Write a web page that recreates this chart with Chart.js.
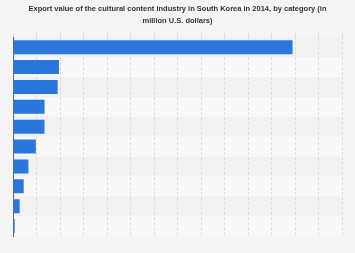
<!DOCTYPE html>
<html>
<head>
<meta charset="utf-8">
<script src="https://cdn.jsdelivr.net/npm/chart.js@4"></script>
<style>
    html, body { margin: 0; padding: 0; background: #f4f4f4; }
    #wrap { position: relative; width: 355px; height: 253px; }
</style>
</head>
<body>
<div id="wrap"><canvas id="chart"></canvas></div>
<script>
    // Données (millions de dollars US)
    const categories = ['Games', 'Character', 'Knowledge information', 'Music', 'Broadcasting',
        'Publishing', 'Content solutions', 'Cartoons', 'Film', 'Animation'];
    const exportValues = [2974, 489, 475, 336, 335, 243, 164, 114, 71, 18];
    const axisMax = 3500;
    const axisStep = 250;

    const titleLines = [
        'Export value of the cultural content industry in South Korea in 2014, by category (in',
        'million U.S. dollars)'
    ];

    // Fond + bandes alternées, dessinés avant la grille
    const rowBands = {
        id: 'rowBands',
        beforeDraw(chart) {
            const { ctx, width, height, chartArea, scales } = chart;
            const y = scales.y;
            const half = (y.getPixelForValue(1) - y.getPixelForValue(0)) / 2;
            ctx.save();
            ctx.fillStyle = '#f4f4f4';
            ctx.fillRect(0, 0, width, height);
            categories.forEach((c, i) => {
                ctx.fillStyle = i % 2 === 0 ? '#f1f1f1' : '#f8f8f8';
                const py = y.getPixelForValue(i);
                ctx.fillRect(chartArea.left, py - half, chartArea.right - chartArea.left, half * 2);
            });
            ctx.restore();
        }
    };

    new Chart(document.getElementById('chart'), {
        type: 'bar',
        data: {
            labels: categories,
            datasets: [{
                data: exportValues,
                backgroundColor: '#2a76dd',
                barPercentage: 0.7,
                categoryPercentage: 1
            }]
        },
        plugins: [rowBands],
        options: {
            indexAxis: 'y',
            responsive: true,
            maintainAspectRatio: false,
            animation: false,
            layout: { padding: { left: 13, right: 13, top: 0, bottom: 17 } },
            plugins: {
                legend: { display: false },
                tooltip: { enabled: false },
                title: {
                    display: true,
                    text: titleLines,
                    color: '#333',
                    font: { family: 'Liberation Sans', size: 7.5, weight: 'bold', lineHeight: 1.55 },
                    padding: { top: 3, bottom: 7 }
                }
            },
            scales: {
                x: {
                    position: 'top',
                    min: 0,
                    max: axisMax,
                    ticks: { display: false, stepSize: axisStep },
                    grid: {
                        color: '#dcdcdc',
                        tickLength: 4,
                        drawTicks: true,
                        tickColor: '#dcdcdc'
                    },
                    border: { display: false, dash: [3, 2] }
                },
                y: {
                    ticks: { display: false },
                    grid: { display: false, drawTicks: false },
                    border: { display: true, color: '#666', width: 1 }
                }
            }
        }
    });
</script>
</body>
</html>
